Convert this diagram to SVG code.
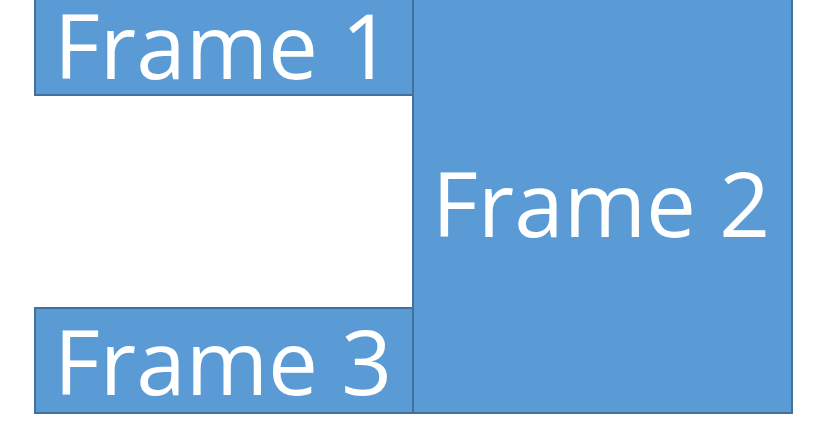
<svg xmlns="http://www.w3.org/2000/svg" width="829" height="435" viewBox="0 0 829 435">
<style>
.f{fill:#5b9bd5;stroke:#41719c;stroke-width:2}
.t{fill:#fff;font-family:"Open Sans","Liberation Sans",sans-serif;font-size:89px;text-anchor:middle}
</style>
<rect width="829" height="435" fill="#fff"/>
<g id="frame2"><rect class="f" x="413" y="-2" width="379" height="415"/><text class="t" x="601" y="237">Frame 2</text></g>
<g id="frame1"><rect class="f" x="35" y="-2" width="378" height="97"/><text class="t" x="223" y="79">Frame 1</text></g>
<g id="frame3"><rect class="f" x="35" y="308" width="378" height="105"/><text class="t" x="223" y="395">Frame 3</text></g>
<g id="connectors"/>
</svg>
